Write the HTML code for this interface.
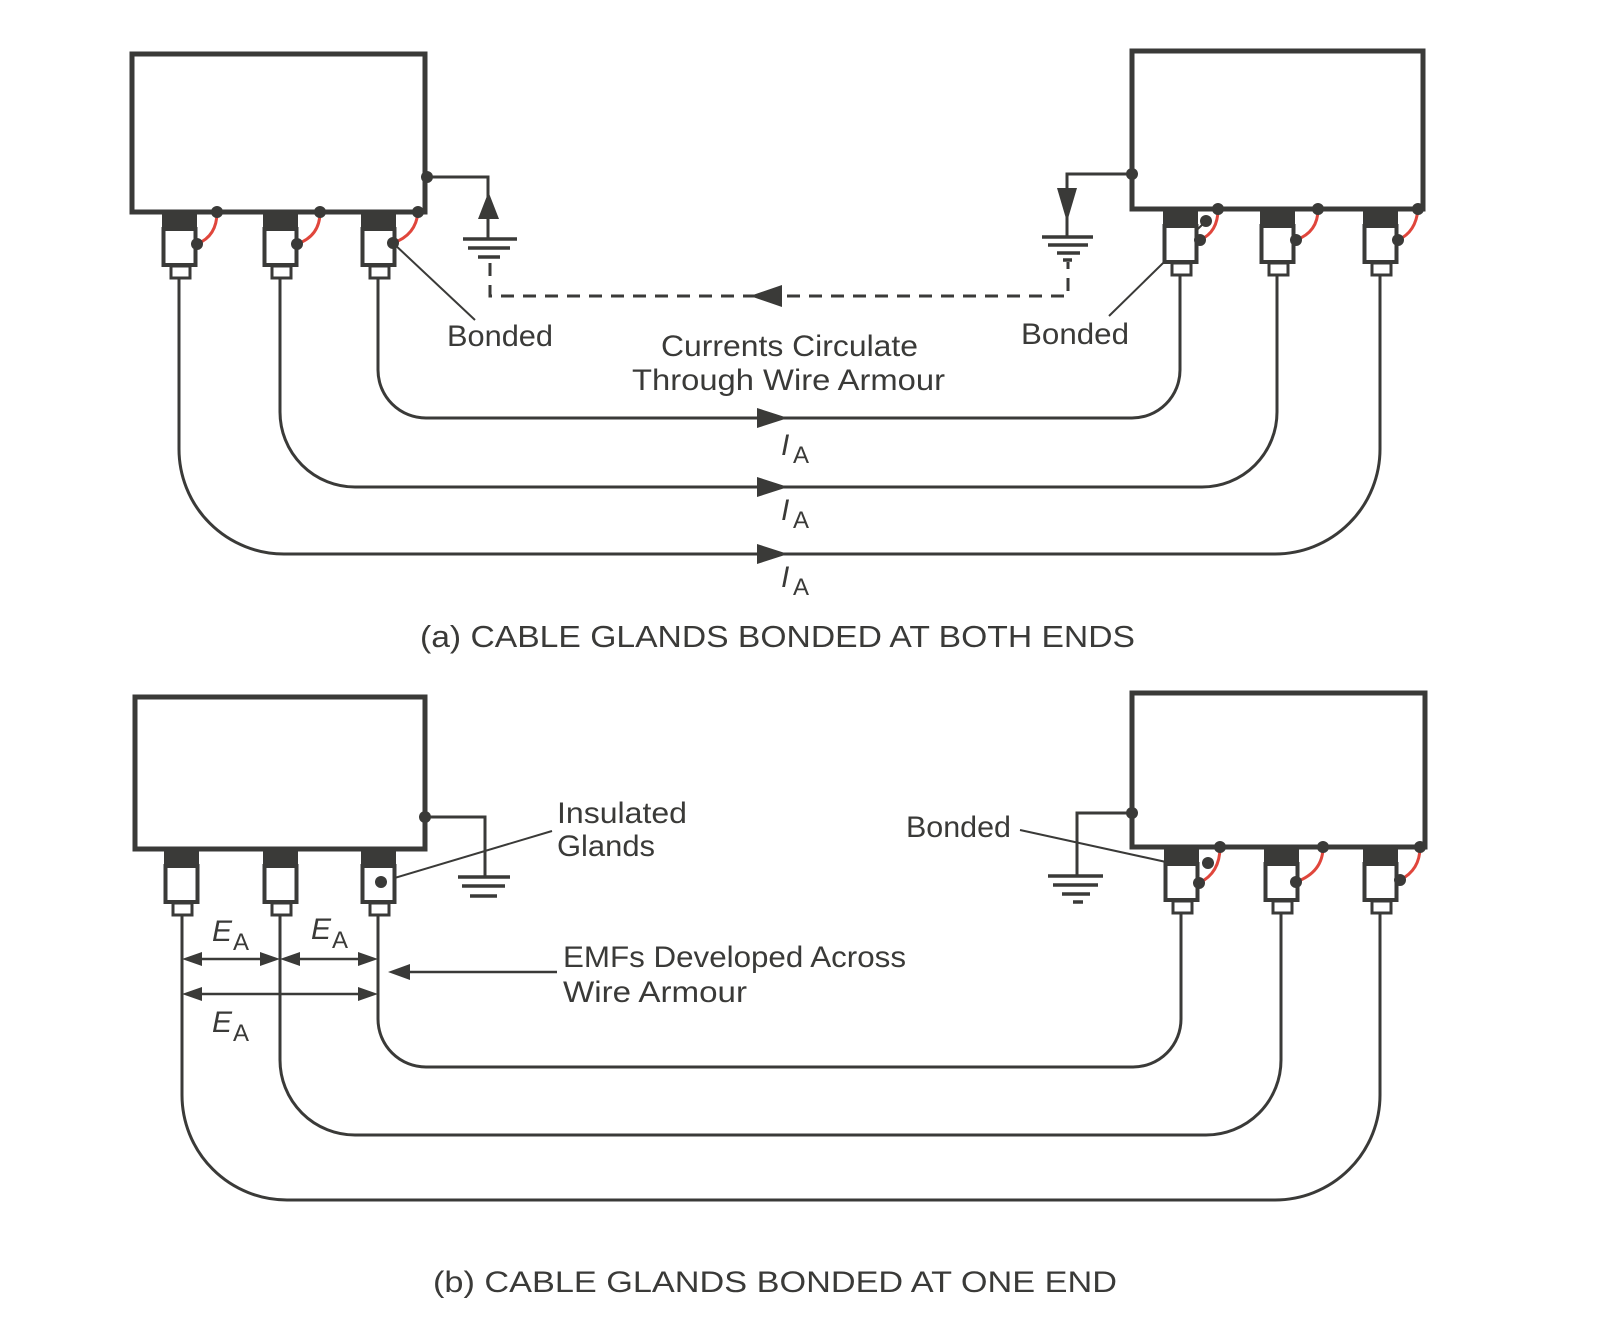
<!DOCTYPE html>
<html><head><meta charset="utf-8"><style>
html,body{margin:0;padding:0;background:#fff;}
svg{display:block;}
text{font-family:"Liberation Sans",sans-serif;fill:#3a3a38;}
</style></head><body>
<svg width="1600" height="1329" viewBox="0 0 1600 1329" xmlns="http://www.w3.org/2000/svg">
<defs>
<g id="gl">
  <rect x="0" y="0" width="35" height="18" fill="#3a3a38"/>
  <rect x="1.5" y="17" width="32" height="36" fill="#fff" stroke="#3a3a38" stroke-width="4"/>
  <rect x="9" y="54" width="19" height="12" fill="#fff" stroke="#3a3a38" stroke-width="3"/>
</g>
</defs>
<g stroke="#3a3a38" fill="none" stroke-linecap="butt">
<!-- ===== (a) ===== -->
<rect x="132" y="54" width="293" height="158" stroke-width="5"/>
<rect x="1132" y="51" width="291" height="158" stroke-width="5"/>
<!-- cables a -->
<g stroke-width="3">
<path d="M378 278 V370 A48 48 0 0 0 426 418 H1132 A48 48 0 0 0 1180 370 V275"/>
<path d="M280 278 V412 A75 75 0 0 0 355 487 H1202 A75 75 0 0 0 1277 412 V275"/>
<path d="M179 278 V449 A105 105 0 0 0 284 554 H1275 A105 105 0 0 0 1380 449 V275"/>
</g>
<!-- ground left a -->
<path d="M427 177 H488 V239" stroke-width="3"/>
<path d="M463 239 H517 M468 248 H510 M478 257 H500" stroke-width="3.5"/>
<path d="M490 263 V296 H1068 V262" stroke-width="3" stroke-dasharray="13 9"/>
<!-- ground right a -->
<path d="M1132 174 H1067 V237" stroke-width="3"/>
<path d="M1042 237 H1093 M1048 245 H1088 M1057 253 H1080 M1063 260 H1072" stroke-width="3.5"/>
<!-- red jumpers a -->
<g stroke="#e0463c" stroke-width="3">
<path d="M197 244 Q217 236 217 212"/><path d="M297 244 Q320 236 320 212"/><path d="M393 243 Q416 235 418 212"/>
<path d="M1200 240 Q1218 232 1218 209"/><path d="M1296 240 Q1318 232 1318 209"/><path d="M1398 240 Q1416 232 1418 209"/>
</g>
<!-- leaders a -->
<path d="M393 243 L475 320" stroke-width="2"/>
<path d="M1206 221 L1109 316" stroke-width="2"/>

<!-- ===== (b) ===== -->
<rect x="135" y="697" width="290" height="152" stroke-width="5"/>
<rect x="1132" y="693" width="293" height="154" stroke-width="5"/>
<g stroke-width="3">
<path d="M378 915 V1019 A48 48 0 0 0 426 1067 H1133 A48 48 0 0 0 1181 1019 V912"/>
<path d="M280 915 V1060 A75 75 0 0 0 355 1135 H1206 A75 75 0 0 0 1281 1060 V912"/>
<path d="M182 915 V1095 A105 105 0 0 0 287 1200 H1275 A105 105 0 0 0 1380 1095 V912"/>
</g>
<path d="M425 817 H485 V877" stroke-width="3"/>
<path d="M458 877 H510 M462 886 H505 M470 896 H497" stroke-width="3.5"/>
<path d="M1132 813 H1077 V876" stroke-width="3"/>
<path d="M1048 876 H1103 M1053 885 H1098 M1062 894 H1090 M1073 902 H1083" stroke-width="3.5"/>
<g stroke="#e0463c" stroke-width="3">
<path d="M1199 883 Q1220 873 1220 847"/><path d="M1296 882 Q1323 872 1323 847"/><path d="M1400 880 Q1420 870 1420 847"/>
</g>
<path d="M381 882 L552 831" stroke-width="2"/>
<path d="M1020 830 L1198 869" stroke-width="2"/>
<!-- EA arrows -->
<path d="M186 959 H276 M284 959 H374 M186 994 H374 M392 972 H557" stroke-width="2.5"/>
</g>

<!-- glands -->
<use href="#gl" x="162" y="212"/><use href="#gl" x="263" y="212"/><use href="#gl" x="361" y="212"/>
<use href="#gl" x="1163" y="209"/><use href="#gl" x="1260" y="209"/><use href="#gl" x="1363" y="209"/>
<use href="#gl" x="164" y="849"/><use href="#gl" x="263" y="849"/><use href="#gl" x="361" y="849"/>
<use href="#gl" x="1164" y="847"/><use href="#gl" x="1264" y="847"/><use href="#gl" x="1363" y="847"/>

<!-- dots -->
<g fill="#3a3a38">
<circle cx="217" cy="212" r="6"/><circle cx="320" cy="212" r="6"/><circle cx="418" cy="212" r="6"/>
<circle cx="197" cy="244" r="6"/><circle cx="297" cy="244" r="6"/><circle cx="393" cy="243" r="6"/>
<circle cx="427" cy="177" r="6"/>
<circle cx="1132" cy="174" r="6"/>
<circle cx="1218" cy="209" r="6"/><circle cx="1318" cy="209" r="6"/><circle cx="1418" cy="209" r="6"/>
<circle cx="1200" cy="240" r="6"/><circle cx="1296" cy="240" r="6"/><circle cx="1398" cy="240" r="6"/>
<circle cx="1206" cy="221" r="6"/>
<circle cx="425" cy="817" r="6"/><circle cx="381" cy="882" r="6"/>
<circle cx="1132" cy="813" r="6"/>
<circle cx="1220" cy="847" r="6"/><circle cx="1323" cy="847" r="6"/><circle cx="1420" cy="847" r="6"/>
<circle cx="1199" cy="883" r="6"/><circle cx="1296" cy="882" r="6"/><circle cx="1400" cy="880" r="6"/>
<circle cx="1208" cy="863" r="6"/>
<!-- arrowheads -->
<polygon points="478,219 499,219 488.5,192"/>
<polygon points="1057,188 1077,188 1067,222"/>
<polygon points="750,296 782,285 782,307"/>
<polygon points="757,408 788,418 757,428"/>
<polygon points="757,477 788,487 757,497"/>
<polygon points="757,544 788,554 757,564"/>
<polygon points="182,959 202,952 202,966"/><polygon points="280,959 260,952 260,966"/>
<polygon points="280,959 300,952 300,966"/><polygon points="378,959 358,952 358,966"/>
<polygon points="182,994 202,987 202,1001"/><polygon points="378,994 358,987 358,1001"/>
<polygon points="388,972 410,964 410,980"/>
</g>

<!-- text -->
<g font-size="30">
<text x="447" y="346" textLength="106" lengthAdjust="spacingAndGlyphs">Bonded</text>
<text x="1021" y="344" textLength="108" lengthAdjust="spacingAndGlyphs">Bonded</text>
<text x="661" y="356" textLength="257" lengthAdjust="spacingAndGlyphs">Currents Circulate</text>
<text x="632" y="390" textLength="313" lengthAdjust="spacingAndGlyphs">Through Wire Armour</text>
<text x="557" y="823" textLength="130" lengthAdjust="spacingAndGlyphs">Insulated</text>
<text x="557" y="856" textLength="98" lengthAdjust="spacingAndGlyphs">Glands</text>
<text x="906" y="837" textLength="105" lengthAdjust="spacingAndGlyphs">Bonded</text>
<text x="563" y="967" textLength="343" lengthAdjust="spacingAndGlyphs">EMFs Developed Across</text>
<text x="563" y="1002" textLength="184" lengthAdjust="spacingAndGlyphs">Wire Armour</text>
</g>
<g font-size="30" font-style="italic">
<text x="781" y="455">I</text><text x="781" y="520">I</text><text x="781" y="587">I</text>
<text x="212" y="941">E</text><text x="311" y="939">E</text><text x="212" y="1032">E</text>
</g>
<g font-size="24">
<text x="793" y="463">A</text><text x="793" y="528">A</text><text x="793" y="595">A</text>
<text x="233" y="950">A</text><text x="332" y="948">A</text><text x="233" y="1041">A</text>
</g>
<text x="420" y="647" font-size="31" textLength="715" lengthAdjust="spacingAndGlyphs">(a)  CABLE GLANDS BONDED AT BOTH ENDS</text>
<text x="433" y="1292" font-size="30" textLength="684" lengthAdjust="spacingAndGlyphs">(b)  CABLE GLANDS BONDED AT ONE END</text>
</svg>
</body></html>
